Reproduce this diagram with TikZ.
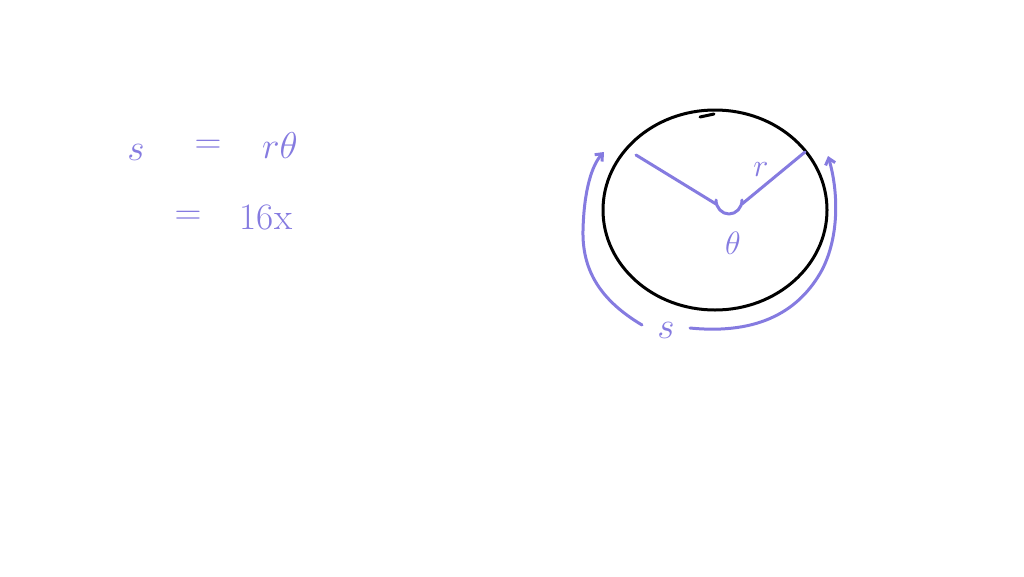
\documentclass[tikz,border=0pt]{standalone}
\usetikzlibrary{arrows.meta}
\definecolor{pen}{RGB}{133,123,224}
\begin{document}
\begin{tikzpicture}[x=1pt,y=-1pt,
  ink/.style={line width=3pt,line cap=round,line join=round},
  purple/.style={ink,draw=pen},
  lbl/.style={text=pen,font=\Huge,scale=1.5,transform shape,inner sep=0pt},
  smalllbl/.style={text=pen,font=\Huge,scale=1.3,transform shape,inner sep=0pt}]
\useasboundingbox (0,0) rectangle (1024,576);
% equations
\node[lbl] (s1) at (136,152) {$s$};
\node[lbl] (eq1) at (208,147) {$=$};
\node[lbl] (rt) at (280,146) {$r\theta$};
\node[lbl] (eq2) at (188,218) {$=$};
\node[lbl] (val) at (266,217) {16x};
% circle
\coordinate (c) at (715,210);
\draw[ink,black] (c) ellipse [x radius=112, y radius=100];
\draw[ink,black] (700,117) -- (714,114);
% radii
\coordinate (o) at (729,208);
\coordinate (pl) at (636,155);
\coordinate (pr) at (805,152);
\draw[purple] (pl) -- (716,204);
\draw[purple] (pr) -- (742,204);
\draw[purple] (716,200) arc[start angle=180,end angle=0,x radius=13,y radius=14];
\node[smalllbl] (rl) at (761,170) {$r$};
\node[smalllbl] (th) at (733,243) {$\theta$};
% arc length arrows
\coordinate (la) at (642,325);
\coordinate (lt) at (604,152);
\draw[purple,-{Straight Barb[length=6pt,width=10pt]}] (la) .. controls (600,300) and (582,270) .. (583,230) .. controls (584,190) and (592,165) .. (lt);
\coordinate (rb) at (690,328);
\coordinate (rt2) at (828,156);
\draw[purple,-{Straight Barb[length=6pt,width=10pt]}] (rb) .. controls (760,335) and (800,310) .. (822,270) .. controls (840,235) and (838,190) .. (rt2);
\node[lbl] (sl) at (666,330) {$s$};
\end{tikzpicture}
\end{document}
